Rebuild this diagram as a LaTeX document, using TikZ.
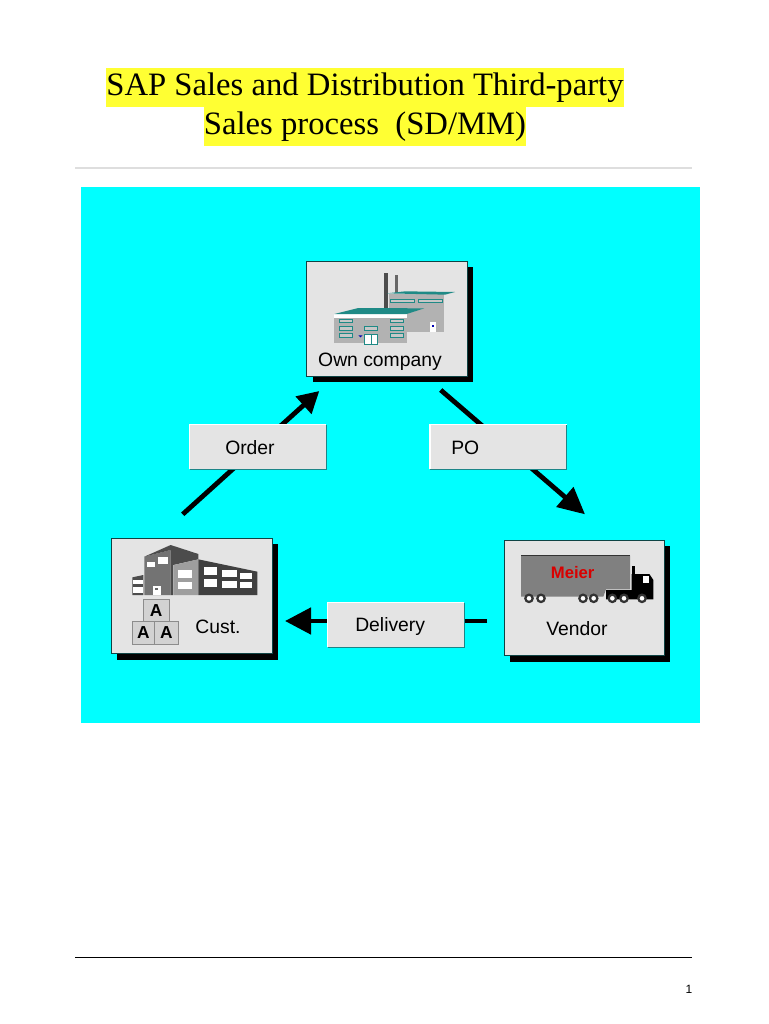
\documentclass[tikz,border=0pt]{standalone}
\usepackage{fontspec}
\setmainfont{Liberation Serif}
\setsansfont{Liberation Sans}
\usetikzlibrary{arrows.meta,shadows}
\definecolor{pageCyan}{HTML}{00FFFF}
\definecolor{boxGray}{HTML}{E4E4E4}
\definecolor{roofTeal}{HTML}{1F8A86}
\definecolor{edgeTeal}{HTML}{1C8587}
\definecolor{markYellow}{HTML}{FFFF33}

\begin{document}
\begin{tikzpicture}
[x=0.75pt,y=-0.75pt,
  titleLine/.style={fill=markYellow,inner sep=0pt,minimum height=29.25pt,font=\rmfamily\fontsize{24.5}{24.5}\selectfont},%
  mainBox/.style={shape=rectangle,draw=edgeTeal!50!black,fill=boxGray,line width=0.5pt,inner sep=0pt,
    drop shadow={shadow xshift=4.5pt,shadow yshift=-4.5pt,fill=black,opacity=1}},%
  labelBox/.style={shape=rectangle,fill=boxGray,inner sep=0pt,minimum width=102pt,minimum height=33pt},%
  boxText/.style={font=\sffamily\fontsize{14.5}{14.5}\selectfont,inner sep=0pt},%
  flowLine/.style={line width=3.6pt,line cap=butt},%
  blockDecorate/.style={shape=rectangle,draw=black!45,fill=boxGray!92!black,line width=0.5pt,inner sep=0pt,
    minimum height=16.75pt,font=\sffamily\bfseries\fontsize{13}{13}\selectfont},%
  wheelDecorate/.style={draw=black!80,line width=1.7pt,fill=white}]
\useasboundingbox (0,0) rectangle (768,1024);
\fill[white] (0,0) rectangle (768,1024);
%% title and page furniture
\node (titleA) at (365,87.5) [titleLine] {SAP Sales and Distribution Third-party};
\node (titleB) at (365,126.5) [titleLine] {Sales process\ \ (SD/MM)};
\draw[black!13,line width=0.8pt] (75,168) -- (692,168);
\fill[pageCyan] (81,187) rectangle (700,723);
\draw[black,line width=1.2pt] (75,957.5) -- (692,957.5);
\node (pageNo) at (689,989) [font=\sffamily\fontsize{9}{9}\selectfont,inner sep=0pt] {1};
%% boxes
\node (own) at (387,318.5) [mainBox,minimum width=120.5pt,minimum height=86.5pt] {};
\node (cust) at (191.5,596) [mainBox,minimum width=120.5pt,minimum height=86.5pt] {};
\node (vendor) at (584,598) [mainBox,minimum width=120pt,minimum height=86.5pt] {};
%% free ends of the lines
\foreach \nodename/\x/\y in {
  orderStart/182.7/514.3, orderEnd/319.3/391, poStart/440.7/390,
  poEnd/585/514.3, deliveryStart/487.4/621, deliveryEnd/285/621}
{
  \coordinate (\nodename) at (\x,\y);
}
%% lines
\draw[flowLine,-{Triangle[length=16pt,width=17pt]}] (orderStart) -- (orderEnd);
\draw[flowLine,-{Triangle[length=20pt,width=19pt]}] (poStart) -- (poEnd);
\draw[flowLine,-{Triangle[length=19.5pt,width=19.5pt]}] (deliveryStart) -- (deliveryEnd);
%% label boxes
\foreach \nodename/\x/\y/\txtx/\txty/\txt in {
  order/258/447/225/447.5/Order, po/498.3/447/451/447.5/PO, delivery/396/625/355/626/Delivery}
{
  \node (\nodename) at (\x,\y) [labelBox] {};
  \draw[edgeTeal,line width=1pt] (\nodename.north east) -- (\nodename.south east) -- (\nodename.south west);
  \draw[white,line width=1pt] (\nodename.south west) -- (\nodename.north west) -- (\nodename.north east);
  \node (\nodename Text) at (\txtx,\txty) [boxText,anchor=west] {\txt};
}
\node (ownText) at (380,361.5) [boxText] {Own company};
\node (custText) at (218,627) [boxText] {Cust.};
\node (vendorText) at (577,629) [boxText] {Vendor};
%% factory
\begin{scope}[shift={(290,250)},x=0.25pt,y=-0.25pt]
\fill[black!70] (282,70) rectangle (295,190);
\fill[black!60] (314,75) rectangle (323,130);
\fill[black!30] (297,133) rectangle (462,245);
\fill[roofTeal] (290,130) -- (345,124) -- (495,126) -- (465,134) -- cycle;
\fill[black!30] (133,203) rectangle (350,280);
\fill[white] (133,192) rectangle (350,203);
\fill[roofTeal] (133,192) -- (205,174) -- (403,175) -- (350,192) -- cycle;
\foreach \xa/\ya/\xb/\yb in {
  302/148/374/158, 384/148/456/158, 148/207/186/218, 148/228/186/241, 148/250/186/263,
  222/228/262/241, 300/207/341/218, 300/228/341/241, 300/250/341/263}
{
  \draw[roofTeal,line width=0.6pt,fill=black!22] (\xa,\ya) rectangle (\xb,\yb);
}
\draw[roofTeal,line width=0.7pt,fill=white] (224,252) rectangle (261,283);
\draw[roofTeal,line width=0.5pt] (242.5,252) -- (242.5,283);
\fill[blue!70!black] (205,256) -- (218,256) -- (211.5,262) -- cycle;
\fill[white] (420,216) rectangle (438,246);
\fill[blue!70!black] (427,226) rectangle (431,232);
\end{scope}
%% customer building
\begin{scope}[shift={(100,530)},x=0.25pt,y=-0.25pt]
\fill[black!70] (97,142) -- (130,135) -- (130,195) -- (97,195) -- cycle;
\fill[black!55] (133,80) -- (212,60) -- (212,195) -- (133,195) -- cycle;
\fill[black!70] (133,80) -- (212,45) -- (295,72) -- (295,88) -- (220,105) -- (220,195) -- (212,195) -- (212,60) -- cycle;
\fill[black!38] (222,105) -- (295,88) -- (295,195) -- (222,195) -- cycle;
\fill[black!75] (295,88) -- (472,125) -- (472,195) -- (295,195) -- cycle;
\foreach \xa/\ya/\xb/\yb in {
  100/150/128/162, 100/172/128/188, 140/95/165/112, 175/80/205/102,
  233/120/275/145, 233/155/275/178, 313/112/352/135, 365/120/410/142,
  420/128/455/148, 313/148/352/170, 365/152/410/174, 420/155/455/175, 158/168/182/195}
{
  \fill[white] (\xa,\ya) rectangle (\xb,\yb);
}
\fill[black!60] (165,173) rectangle (175,181);
\node (blockTop) at (168.5,241.5) [blockDecorate,minimum width=19.25pt] {A};
\node (blockLeft) at (130,308.5) [blockDecorate,minimum width=16pt] {A};
\node (blockRight) at (199,308.5) [blockDecorate,minimum width=18.5pt] {A};
\end{scope}
%% truck
\begin{scope}[shift={(490,530)},x=0.25pt,y=-0.25pt]
\fill[black!50] (93,77) -- (420,77) -- (420,178) -- (348,178) -- (340,200) -- (93,200) -- cycle;
\draw[black!80,line width=0.8pt] (93,77) -- (420,77);
\fill[black] (427,108) rectangle (436,132);
\fill[black] (348,180) -- (425,180) -- (425,132) -- (478,132) -- (490,150) -- (490,208) -- (348,208) -- cycle;
\fill[white] (458,138) rectangle (477,158);
\foreach \x in {117,153,279,311,367,402,456}
{
  \draw[wheelDecorate] (\x,205) circle (11);
}
\node (meierText) at (248,128) [font=\sffamily\bfseries\fontsize{12.5}{12.5}\selectfont,text=red!85!black,inner sep=0pt] {Meier};
\end{scope}
\end{tikzpicture}
\end{document}
